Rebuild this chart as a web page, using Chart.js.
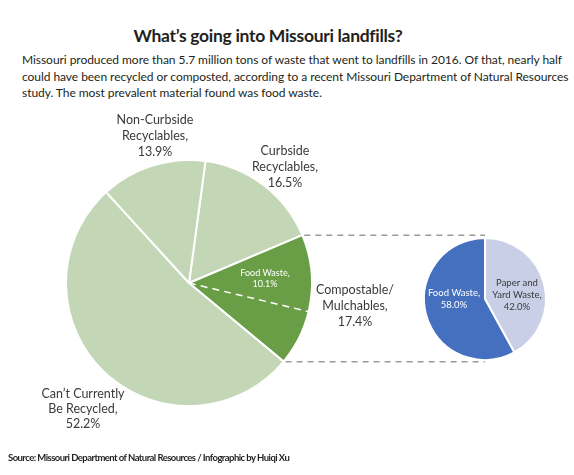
<!DOCTYPE html>
<html>
<head>
<meta charset="utf-8">
<script src="https://cdn.jsdelivr.net/npm/chart.js@4.4.1/dist/chart.umd.min.js"></script>
<style>
    html, body { margin: 0; padding: 0; background: #fff; }
    body { width: 574px; height: 475px; position: relative; overflow: hidden; font-family: Lato, 'Open Sans', sans-serif; color: #231f20; }
    #title { position: absolute; left: 0; top: 25px; width: 536px; text-align: center; font-weight: 700; font-size: 17.5px; letter-spacing: -0.3px; }
    #subtitle { position: absolute; left: 22px; top: 52px; width: 560px; font-size: 12px; line-height: 16.5px; white-space: nowrap; letter-spacing: -0.05px; }
    #source { position: absolute; left: 8px; top: 452px; font-size: 9.5px; font-weight: 700; letter-spacing: -0.55px; }
    #main-wrap { position: absolute; left: 0; top: 0; width: 574px; height: 475px; }
    #sub-wrap { position: absolute; left: 418px; top: 232px; width: 134px; height: 134px; }
</style>
</head>
<body>
<div id="title">What’s going into Missouri landfills?</div>
<div id="subtitle">Missouri produced more than 5.7 million tons of waste that went to landfills in 2016. Of that, nearly half<br>could have been recycled or composted, according to a recent Missouri Department of Natural Resources<br>study. The most prevalent material found was food waste.</div>
<div id="main-wrap"><canvas id="main-pie"></canvas></div>
<div id="sub-wrap"><canvas id="sub-pie"></canvas></div>
<div id="source">Source: Missouri Department of Natural Resources / Infographic by Huiqi Xu</div>
<script>
// main breakdown, clockwise from the top
const mainLabels = [
    ['Curbside', 'Recyclables,', '16.5%'],
    ['Compostable/', 'Mulchables,', '17.4%'],
    ['Can’t Currently', 'Be Recycled,', '52.2%'],
    ['Non-Curbside', 'Recyclables,', '13.9%']
];
const mainValues = [16.5, 17.4, 52.2, 13.9];
const mainColors = ['#c3d6b5', '#6a9e46', '#c3d6b5', '#c3d6b5'];

// food waste share inside compostable slice
const foodWasteLabel = ['Food Waste,', '10.1%'];
const foodWasteValue = 10.1;

// breakdown of compostable/mulchables
const subLabels = [
    ['Paper and', 'Yard Waste,', '42.0%'],
    ['Food Waste,', '58.0%']
];
const subValues = [42.0, 58.0];
const subColors = ['#c8cfe6', '#4570bf'];
const subTextColors = ['#3a3a3a', '#ffffff'];

const FONT = 'Lato, "Open Sans", sans-serif';
const subCenterX = 485;

function drawLines(ctx, lines, x, y, lh, font, color) {
    ctx.save();
    ctx.font = font;
    ctx.fillStyle = color;
    ctx.textAlign = 'center';
    ctx.textBaseline = 'middle';
    lines.forEach((t, i) => ctx.fillText(t, x, y + (i - (lines.length - 1) / 2) * lh));
    ctx.restore();
}

// where each outside label sits, relative to the pie centre
const mainLabelOffsets = [[96, -116], [166, 23], [-106, 126], [-34, -147]];

const mainPlugin = {
    id: 'mainDecor',
    afterDatasetsDraw(chart) {
        const ctx = chart.ctx;
        const arcs = chart.getDatasetMeta(0).data;
        const cx = arcs[0].x, cy = arcs[0].y, r = arcs[0].outerRadius;

        // dashed split for food waste
        const comp = arcs[1];
        const a = comp.startAngle + (comp.endAngle - comp.startAngle) * foodWasteValue / mainValues[1];
        ctx.save();
        ctx.strokeStyle = '#ffffff';
        ctx.lineWidth = 1.5;
        ctx.setLineDash([7, 5]);
        ctx.beginPath();
        ctx.moveTo(cx, cy);
        ctx.lineTo(cx + Math.cos(a) * r, cy + Math.sin(a) * r);
        ctx.stroke();

        // connectors to the second pie
        ctx.strokeStyle = '#9a9a9a';
        ctx.lineWidth = 1.5;
        ctx.setLineDash([6, 5]);
        [comp.startAngle, comp.endAngle].forEach(ang => {
            const px = cx + Math.cos(ang) * r;
            const py = cy + Math.sin(ang) * r;
            ctx.beginPath();
            ctx.moveTo(px + 2, py);
            ctx.lineTo(subCenterX, py);
            ctx.stroke();
        });
        ctx.restore();

        // labels
        const fa = comp.startAngle + (a - comp.startAngle) / 2;
        drawLines(ctx, foodWasteLabel, cx + Math.cos(fa) * r * 0.62, cy + Math.sin(fa) * r * 0.62 + 2,
            11, '9px ' + FONT, '#ffffff');
        mainLabels.forEach((lines, i) => {
            const [dx, dy] = mainLabelOffsets[i];
            drawLines(ctx, lines, cx + dx, cy + dy, i === 2 ? 15 : 16, '12.5px ' + FONT, '#3a3a3a');
        });
    }
};

new Chart(document.getElementById('main-pie'), {
    type: 'pie',
    data: {
        labels: mainLabels.map(l => l.join(' ')),
        datasets: [{
            data: mainValues,
            backgroundColor: mainColors,
            borderColor: '#ffffff',
            borderWidth: 2
        }]
    },
    options: {
        responsive: true,
        maintainAspectRatio: false,
        animation: false,
        rotation: 7.7,
        layout: { padding: { left: 65, right: 261, top: 159, bottom: 68 } },
        plugins: { legend: { display: false }, tooltip: { enabled: false } }
    },
    plugins: [mainPlugin]
});

const subLabelOffsets = [[32, -4], [-31, 0]];

const subPlugin = {
    id: 'subDecor',
    afterDatasetsDraw(chart) {
        const ctx = chart.ctx;
        const arcs = chart.getDatasetMeta(0).data;
        const cx = arcs[0].x, cy = arcs[0].y;
        subLabels.forEach((lines, i) => {
            const [dx, dy] = subLabelOffsets[i];
            drawLines(ctx, lines, cx + dx, cy + dy, 12, '9.5px ' + FONT, subTextColors[i]);
        });
    }
};

new Chart(document.getElementById('sub-pie'), {
    type: 'pie',
    data: {
        labels: subLabels.map(l => l.join(' ')),
        datasets: [{
            data: subValues,
            backgroundColor: subColors,
            borderColor: '#ffffff',
            borderWidth: 2
        }]
    },
    options: {
        responsive: true,
        maintainAspectRatio: false,
        animation: false,
        layout: { padding: 5 },
        plugins: { legend: { display: false }, tooltip: { enabled: false } }
    },
    plugins: [subPlugin]
});
</script>
</body>
</html>
